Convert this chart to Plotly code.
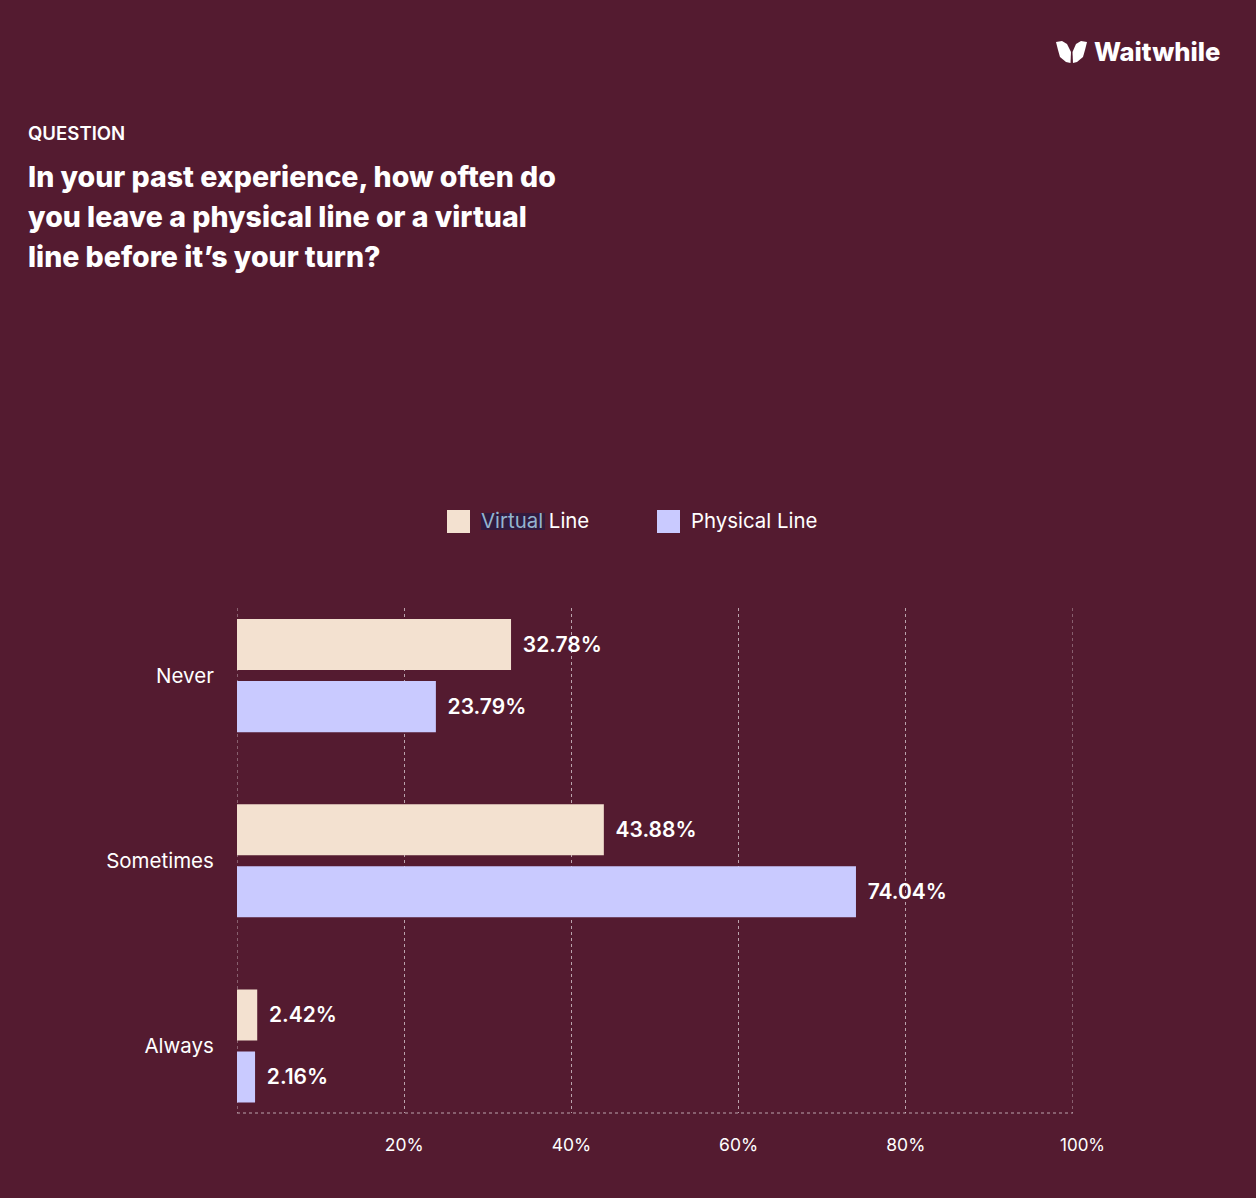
import plotly.graph_objects as go

W = 1256
H = 1198

categories = ['Never', 'Sometimes', 'Always']
virtual_line = [32.78, 43.88, 2.42]
physical_line = [23.79, 74.04, 2.16]
tick_vals = [0, 20, 40, 60, 80, 100]
tick_text = ['', '20%', '40%', '60%', '80%', '']

title_lines = ['In your past experience, how often do',
               'you leave a physical line or a virtual',
               'line before it’s your turn?']
title_y = [177, 217, 256]

BG = '#541b30'
PEACH = '#f3e1d0'
LILAC = '#c9caff'
WHITE = '#ffffff'
FONT = 'Inter'
DOTS = 'rgba(255,255,255,0.6)'


def px(x):
    return x / W


def py(y):
    return 1 - y / H


def label(text, x, y, size, weight=400, color=WHITE, xanchor='left'):
    return dict(text=text, x=px(x), y=py(y), xref='paper', yref='paper', xanchor=xanchor, yanchor='middle',
                showarrow=False, font=dict(family=FONT, size=size, color=color, weight=weight))


def box(x0, y0, x1, y1, color):
    return dict(type='rect', xref='paper', yref='paper', x0=px(x0), x1=px(x1), y0=py(y0), y1=py(y1),
                fillcolor=color, line_width=0)


def wing(points):
    # logo outline, given in page pixels
    path = 'M ' + ' L '.join('%.5f %.5f' % (px(x), py(y)) for x, y in points) + ' Z'
    return dict(type='path', xref='paper', yref='paper', path=path, fillcolor=WHITE, line_width=0)


def dotted(x0, x1, y0, y1):
    return dict(type='line', xref='x', yref='paper', x0=x0, x1=x1, y0=py(y0), y1=py(y1),
                line=dict(color=DOTS, width=1, dash='dot'), layer='below')


fig = go.Figure(data=[
    go.Bar(name='Virtual Line', y=categories, x=virtual_line, orientation='h', marker_color=PEACH,
           text=['\u2005\u2009%.2f%%' % v for v in virtual_line], textposition='outside', cliponaxis=False),
    go.Bar(name='Physical Line', y=categories, x=physical_line, orientation='h', marker_color=LILAC,
           text=['\u2005\u2009%.2f%%' % v for v in physical_line], textposition='outside', cliponaxis=False),
])

fig.update_traces(textfont=dict(family=FONT, size=21, color=WHITE, weight=600), marker_line_width=0)

shapes = [
    # plot frame, plotly skips gridlines on the range edges
    dotted(0, 100, 1113, 1113),
    dotted(0, 0, 608, 1113),
    dotted(100, 100, 608, 1113),
    # legend swatches
    box(447, 510, 470, 533, PEACH),
    box(657, 510, 680, 533, LILAC),
    # the highlighted word in the legend
    box(481, 513, 545, 530, '#321a3e'),
    # logo
    wing([(1056, 42), (1062, 41), (1067, 44), (1071, 52), (1070.5, 63), (1066, 62), (1060, 57), (1058, 50)]),
    wing([(1087, 42), (1081, 41), (1076, 44), (1072.5, 52), (1073, 63), (1077, 62), (1083, 57), (1085, 50)]),
]

annotations = [label('QUESTION', 26, 133, 18.6, 600)]
for line, y in zip(title_lines, title_y):
    annotations.append(label(line, 26, y, 28.5, 800))
annotations += [
    label('Waitwhile', 1092, 51, 25.6, 800),
    label('<span style="color:#94b4cf">Virtual</span> Line', 479, 520.5, 20.4),
    label('Physical Line', 689, 520.5, 20.4),
    # last tick label sits right of its gridline
    dict(text='100%', x=100, y=py(1145), xref='x', yref='paper', xshift=9, xanchor='center', yanchor='middle',
         showarrow=False, font=dict(family=FONT, size=17, color=WHITE)),
]

fig.update_layout(
    width=W,
    height=H,
    margin=dict(l=0, r=0, t=0, b=0),
    paper_bgcolor=BG,
    plot_bgcolor=BG,
    showlegend=False,
    barmode='group',
    bargap=0.33,
    bargroupgap=0.177,
    font=dict(family=FONT, color=WHITE),
    shapes=shapes,
    annotations=annotations,
    xaxis=dict(
        domain=[px(237), px(1073)],
        range=[0, 100],
        tickvals=tick_vals,
        ticktext=tick_text,
        tickfont=dict(size=17.5, color=WHITE),
        showgrid=True,
        gridcolor=DOTS,
        griddash='dot',
        gridwidth=1,
        zeroline=False,
        showline=False,
        ticks='outside',
        ticklen=16,
        tickcolor='rgba(0,0,0,0)',
        layer='below traces',
    ),
    yaxis=dict(
        domain=[py(1113), py(608)],
        range=[2.362, -0.365],
        tickfont=dict(size=20.5, color=WHITE),
        showgrid=False,
        zeroline=False,
        showline=False,
        ticks='outside',
        ticklen=18,
        tickcolor='rgba(0,0,0,0)',
    ),
)

fig.write_html("out.html", config=dict(displayModeBar=False),
               post_script="document.body.style.margin='0';document.body.style.background='%s';" % BG)
